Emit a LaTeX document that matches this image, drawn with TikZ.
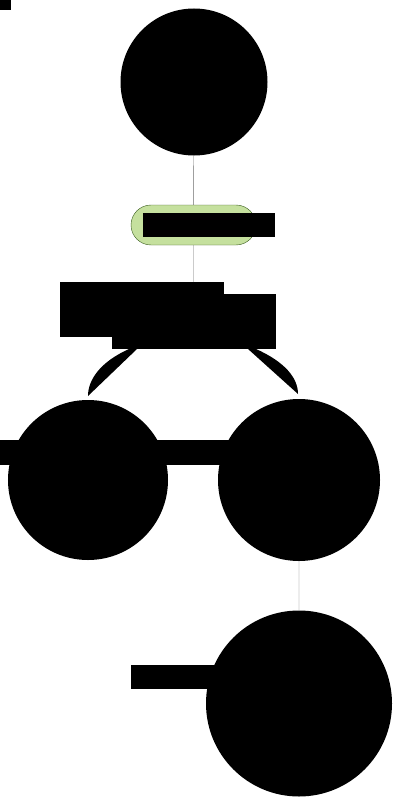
\documentclass[tikz,border=0pt]{standalone}
\definecolor{pillfill}{RGB}{197,224,158}
\definecolor{pilledge}{RGB}{62,96,36}
\begin{document}
\begin{tikzpicture}[
      x=0.5mm, y=-0.5mm,
      blob/.style={
          circle, fill=black, inner sep=0pt, outer sep=0pt,
        },
      redact/.style={
          rectangle, fill=black, inner sep=0pt, outer sep=0pt,
        },
      pill/.style={
          rectangle, rounded corners=10mm,
          draw=pilledge, fill=pillfill, line width=0.6pt,
          minimum width=62.5mm, minimum height=20mm,
        },
      link/.style={gray!85!black, line width=0.6pt}
    ]
    \useasboundingbox (0,0) rectangle (400,805);

    \node[redact, minimum width=5.5mm, minimum height=5mm] (corner) at (5.5,5) {};

    \node[blob, minimum size=73.5mm] (top) at (194,82) {};
    \node[pill] (cat) at (193.5,225) {};
    \node[redact, minimum width=66mm, minimum height=12mm] (catlbl) at (209,225) {};

    \node[redact, minimum width=82mm, minimum height=27.5mm] (blka) at (142,309.5) {};
    \node[redact, minimum width=82mm, minimum height=27.5mm] (blkb) at (194,321.5) {};

    \node[redact, minimum width=115mm, minimum height=12.5mm] (barl) at (115,452.5) {};
    \node[blob, minimum size=80mm] (lc) at (88,480) {};
    \node[blob, minimum size=81mm] (rc) at (299,480) {};

    \node[redact, minimum width=42mm, minimum height=12mm] (barb) at (173,677) {};
    \node[blob, minimum size=93mm] (bc) at (299,703.5) {};

    \draw[link]
    (top) -- (cat)
    (cat.south) -- (cat.south |- blka.north)
    (rc) -- (bc)
    ;

    % tapered branches
    \coordinate (lt1) at (137,349);
    \coordinate (lt2) at (129,349);
    \coordinate (lb) at (88,396);
    \coordinate (rt1) at (248,349);
    \coordinate (rt2) at (256,349);
    \coordinate (rb) at (298,394);
    \fill (lt1) -- (lb) .. controls (88,380) and (100,362) .. (lt2) -- cycle;
    \fill (rt1) -- (rb) .. controls (298,378) and (285,362) .. (rt2) -- cycle;
  \end{tikzpicture}
\end{document}
